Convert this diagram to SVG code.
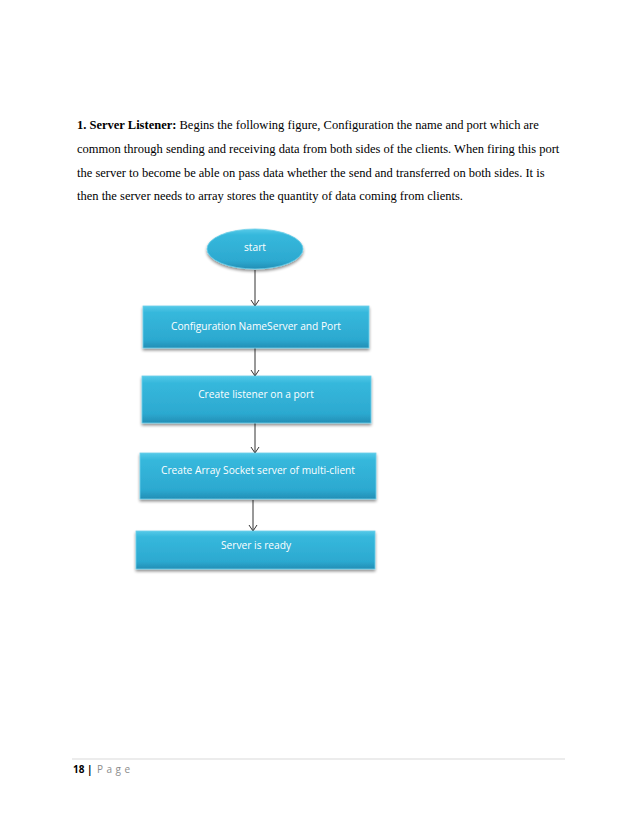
<svg xmlns="http://www.w3.org/2000/svg" width="638" height="826" viewBox="0 0 638 826">
<style>
.p{font-family:"Liberation Serif","Times New Roman",serif;font-size:12.5px;fill:#000}
.n{font-family:"Open Sans","Liberation Sans",sans-serif;font-size:10.2px;fill:#fff;text-anchor:middle}
.box{fill:url(#g);stroke:#6fd0ea;stroke-width:0.8;filter:url(#sh)}
.c{stroke:#333;stroke-width:1;fill:none;marker-end:url(#a)}
</style>
<defs>
<linearGradient id="g" x1="0" y1="0" x2="0" y2="1">
<stop offset="0" stop-color="#55c9e8"/>
<stop offset="0.15" stop-color="#36b8dc"/>
<stop offset="0.8" stop-color="#2ca9d0"/>
<stop offset="1" stop-color="#238eb5"/>
</linearGradient>
<filter id="sh" x="-10%" y="-20%" width="120%" height="150%">
<feGaussianBlur in="SourceAlpha" stdDeviation="1.5"/>
<feOffset dx="0" dy="2" result="b"/>
<feComponentTransfer><feFuncA type="linear" slope="0.45"/></feComponentTransfer>
<feMerge><feMergeNode/><feMergeNode in="SourceGraphic"/></feMerge>
</filter>
<marker id="a" markerWidth="10" markerHeight="10" refX="8" refY="5" orient="auto" markerUnits="userSpaceOnUse">
<path d="M2,1 L8,5 L2,9" fill="none" stroke="#333" stroke-width="1"/>
</marker>
</defs>
<rect width="638" height="826" fill="#fff"/>
<g id="paragraph">
<text class="p" x="77" y="129"><tspan font-weight="bold">1. Server Listener:</tspan> Begins the following figure, Configuration the name and port which are</text>
<text class="p" x="77" y="153">common through sending and receiving data from both sides of the clients. When firing this port</text>
<text class="p" x="77" y="177">the server to become be able on pass data whether the send and transferred on both sides. It is</text>
<text class="p" x="77" y="200">then the server needs to array stores the quantity of data coming from clients.</text>
</g>
<g id="connectors">
<line class="c" x1="255" y1="270" x2="255" y2="306"/>
<line class="c" x1="255" y1="348" x2="255" y2="376"/>
<line class="c" x1="255" y1="423" x2="255" y2="453"/>
<line class="c" x1="253" y1="500" x2="253" y2="531"/>
</g>
<g id="start">
<ellipse class="box" cx="255" cy="249" rx="48" ry="20"/>
<text class="n" x="255" y="251">start</text>
</g>
<g id="config">
<rect class="box" x="143" y="306" width="226" height="42"/>
<text class="n" x="256" y="330">Configuration NameServer and Port</text>
</g>
<g id="listener">
<rect class="box" x="142" y="376" width="229" height="47"/>
<text class="n" x="256" y="398">Create listener on a port</text>
</g>
<g id="array">
<rect class="box" x="140" y="453" width="236" height="46"/>
<text class="n" x="258" y="474">Create Array Socket server of multi-client</text>
</g>
<g id="ready">
<rect class="box" x="136" y="531" width="239" height="38"/>
<text class="n" x="256" y="549">Server is ready</text>
</g>
<g id="footer">
<line x1="72" y1="759" x2="565" y2="759" stroke="#d9d9d9" stroke-width="1"/>
<text x="73" y="773" font-family="Open Sans, Liberation Sans, sans-serif" font-size="10" font-weight="bold" fill="#000">18 |</text>
<text x="97" y="773" font-family="Open Sans, Liberation Sans, sans-serif" font-size="10" fill="#8c8c8c" letter-spacing="3.5">Page</text>
</g>
</svg>
